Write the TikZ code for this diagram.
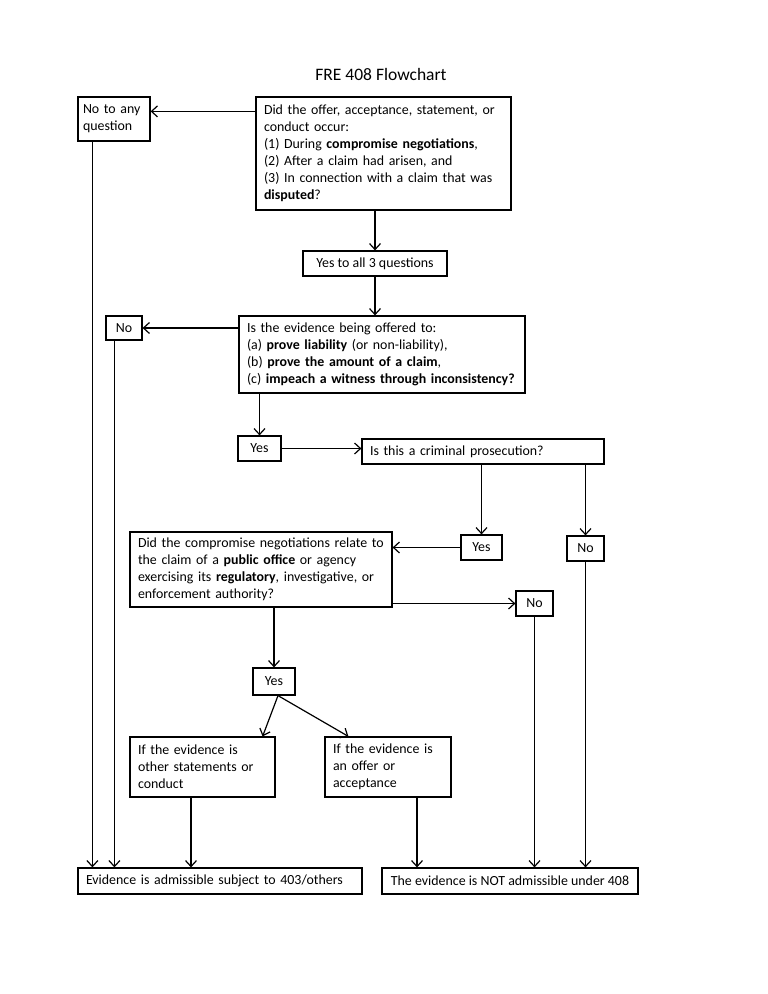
\documentclass[tikz,border=0pt]{standalone}
\usepackage{fontspec}
\setmainfont{Carlito}
\usetikzlibrary{arrows.meta,calc}
\begin{document}
\begin{tikzpicture}[x=1pt,y=-1pt,
  box/.style={draw, line width=1.2pt, align=left, inner xsep=8pt, inner ysep=0pt,
    font=\fontsize{13.9}{17}\selectfont},
  cbox/.style={draw, line width=1.2pt, align=center, inner xsep=2pt, inner ysep=0pt,
    font=\fontsize{13.9}{17}\selectfont},
  arr/.style={line width=1.2pt, -{Straight Barb[length=6pt,width=11pt,line width=1.2pt]}}
]
\useasboundingbox (0,0) rectangle (768,994);
\node[font=\fontsize{17.5}{20}\selectfont] (title) at (381,74) {FRE 408 Flowchart};

\node[box, inner xsep=5pt, text width=62, minimum height=44] (noany) at (114,119) {No to any\\question};
\node[box, text width=239, minimum height=113] (q1) at (383.5,153.5)
  {Did the offer, acceptance, statement, or\\conduct occur:\\(1) During \textbf{compromise negotiations},\\(2) After a claim had arisen, and\\(3) In connection with a claim that was\\\textbf{disputed}?};
\node[cbox, minimum width=144, minimum height=25] (yesall) at (375,263.5) {Yes to all 3 questions};
\node[cbox, minimum width=36, minimum height=24] (no1) at (124,328) {No};
\node[box, text width=270, minimum height=77] (q2) at (382,354.5)
  {Is the evidence being offered to:\\(a) \textbf{prove liability} (or non-liability),\\(b) \textbf{prove the amount of a claim},\\(c) \textbf{impeach a witness through inconsistency?}};
\node[cbox, minimum width=43, minimum height=25] (yes1) at (259.5,448.5) {Yes};
\node[box, text width=226, minimum height=25] (crim) at (483,451.5) {Is this a criminal prosecution?};
\node[cbox, minimum width=41, minimum height=25] (yes2) at (481.5,547.5) {Yes};
\node[cbox, minimum width=37, minimum height=25] (no3) at (585.5,548.5) {No};
\node[box, text width=246, minimum height=75] (q3) at (261,569.5)
  {Did the compromise negotiations relate to\\the claim of a \textbf{public office} or agency\\exercising its \textbf{regulatory}, investigative, or\\enforcement authority?};
\node[cbox, minimum width=37, minimum height=25] (no4) at (534.5,603.5) {No};
\node[cbox, minimum width=42, minimum height=27] (yes3) at (274,681.5) {Yes};
\node[box, text width=129, minimum height=60] (lbox) at (202.5,767) {If the evidence is\\other statements or\\conduct};
\node[box, text width=110, minimum height=60] (rbox) at (388,767) {If the evidence is\\an offer or\\acceptance};
\node[box, text width=268, minimum height=26] (adm) at (220,881) {Evidence is admissible subject to 403/others};
\node[cbox, minimum width=256, minimum height=26] (notadm) at (510,881) {The evidence is NOT admissible under 408};

% connectors
\coordinate (q1l) at ($(q1.north west)+(0,15)$);
\draw[arr] (q1l) -- (q1l -| noany.east);
\draw[arr] (yesall.north |- q1.south) -- (yesall.north);
\draw[arr] (yesall.south) -- (yesall.south |- q2.north);
\draw[arr] (q2.west |- no1.east) -- (no1.east);
\draw[arr] (yes1.north |- q2.south) -- (yes1.north);
\draw[arr] (yes1.east) -- (yes1.east -| crim.west);
\draw[arr] (yes2.north |- crim.south) -- (yes2.north);
\draw[arr] (no3.north |- crim.south) -- (no3.north);
\draw[arr] (yes2.west) -- (yes2.west -| q3.east);
\draw[arr] (q3.east |- no4.west) -- (no4.west);
\draw[arr] (yes3.north |- q3.south) -- (yes3.north);
\coordinate (ys) at ($(yes3.south)+(4,0)$);
\draw[arr] (ys) -- ($(lbox.north east)+(-13,0)$);
\draw[arr] (ys) -- ($(rbox.north west)+(24,0)$);
\coordinate (c1) at ($(noany.south west)+(15,0)$);
\draw[arr] (c1) -- (c1 |- adm.north);
\coordinate (c2) at ($(no1.south west)+(9,0)$);
\draw[arr] (c2) -- (c2 |- adm.north);
\coordinate (c3) at ($(lbox.south)+(-11.5,0)$);
\draw[arr] (c3) -- (c3 |- adm.north);
\coordinate (c4) at ($(rbox.south)+(29,0)$);
\draw[arr] (c4) -- (c4 |- notadm.north);
\draw[arr] (no4.south) -- (no4.south |- notadm.north);
\draw[arr] (no3.south) -- (no3.south |- notadm.north);
\end{tikzpicture}
\end{document}
